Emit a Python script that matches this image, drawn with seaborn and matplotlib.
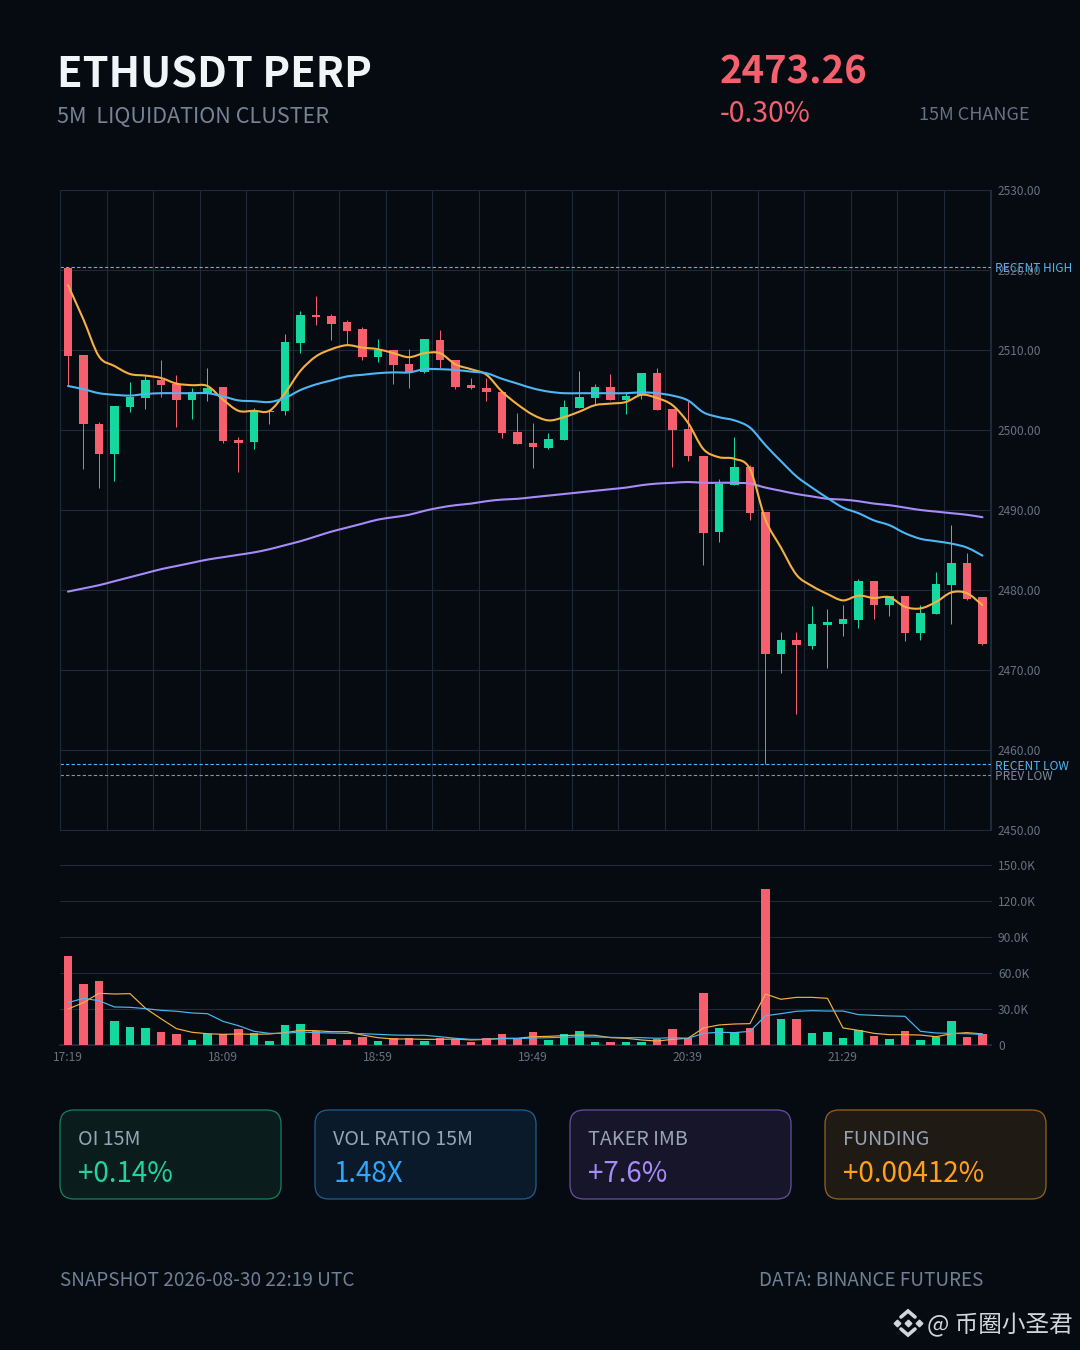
import numpy as np
import pandas as pd
import seaborn as sns
import matplotlib
matplotlib.use("Agg")
import matplotlib.pyplot as plt
from matplotlib.patches import FancyBboxPatch, PathPatch
from matplotlib.path import Path

# --- data ---
OPEN = [2520.2, 2509.4, 2500.8, 2497.0, 2502.9, 2504.0, 2506.3, 2505.7, 2503.8, 2504.6,
        2505.4, 2498.7, 2498.5, 2502.2, 2502.4, 2510.9, 2514.4, 2514.2, 2513.5, 2512.6,
        2509.1, 2510.0, 2508.2, 2507.3, 2511.3, 2508.8, 2505.6, 2505.3, 2504.8, 2499.8,
        2498.4, 2497.8, 2498.8, 2502.7, 2504.0, 2505.4, 2503.8, 2504.4, 2507.1, 2502.6,
        2500.1, 2496.8, 2487.2, 2493.1, 2495.4, 2489.7, 2472.0, 2473.8, 2473.0, 2475.6,
        2475.8, 2476.3, 2481.1, 2478.1, 2479.3, 2474.6, 2477.0, 2480.6, 2483.4, 2479.1]
CLOSE = [2509.2, 2500.7, 2497.0, 2503.0, 2504.1, 2506.3, 2505.6, 2503.8, 2504.8, 2505.3,
         2498.6, 2498.4, 2502.4, 2502.4, 2511.0, 2514.4, 2514.1, 2513.3, 2512.4, 2509.1,
         2510.0, 2508.1, 2507.3, 2511.4, 2508.7, 2505.4, 2505.2, 2504.7, 2499.6, 2498.3,
         2497.9, 2498.9, 2502.9, 2504.1, 2505.4, 2503.8, 2504.3, 2507.1, 2502.5, 2500.0,
         2496.7, 2487.1, 2493.2, 2495.4, 2489.6, 2472.0, 2473.8, 2473.1, 2475.7, 2476.0,
         2476.4, 2481.1, 2478.1, 2479.3, 2474.6, 2477.1, 2480.8, 2483.4, 2478.9, 2473.3]
HIGH = [2520.4, 2509.4, 2501.0, 2503.0, 2506.0, 2506.7, 2508.8, 2506.9, 2505.2, 2507.7,
        2505.4, 2499.1, 2502.8, 2502.4, 2512.0, 2514.9, 2516.8, 2514.5, 2513.7, 2512.9,
        2511.4, 2510.0, 2510.1, 2511.4, 2512.5, 2508.8, 2506.5, 2506.5, 2504.8, 2502.1,
        2500.9, 2499.6, 2503.7, 2507.4, 2505.7, 2507.0, 2504.8, 2507.1, 2507.8, 2502.6,
        2503.6, 2496.8, 2493.9, 2499.1, 2495.6, 2489.7, 2474.8, 2474.8, 2478.0, 2477.6,
        2478.1, 2481.4, 2481.1, 2479.3, 2479.3, 2478.1, 2482.2, 2488.1, 2484.6, 2479.1]
LOW = [2505.5, 2495.1, 2492.7, 2493.6, 2502.2, 2502.6, 2504.1, 2500.4, 2501.4, 2503.6,
       2498.4, 2494.7, 2497.6, 2500.8, 2501.9, 2509.6, 2513.1, 2511.3, 2510.6, 2508.7,
       2508.5, 2505.7, 2505.2, 2507.1, 2507.8, 2505.1, 2505.1, 2503.6, 2499.0, 2498.2,
       2495.3, 2497.6, 2498.8, 2502.7, 2503.3, 2503.8, 2502.0, 2503.9, 2502.5, 2495.4,
       2496.1, 2483.1, 2486.0, 2493.1, 2488.7, 2458.3, 2469.6, 2464.5, 2472.6, 2470.2,
       2474.2, 2475.3, 2476.4, 2476.7, 2473.6, 2473.7, 2477.0, 2475.8, 2478.7, 2473.1]

MA_FAST = [2518.1, 2513.8, 2509.2, 2508.0, 2507.0, 2506.8, 2506.5, 2505.8, 2505.6, 2505.5,
           2503.8, 2502.4, 2502.4, 2502.4, 2504.6, 2507.4, 2509.2, 2510.1, 2510.6, 2510.3,
           2510.1, 2509.6, 2509.1, 2509.6, 2509.6, 2508.2, 2507.6, 2506.9, 2504.8, 2503.2,
           2501.9, 2501.2, 2501.6, 2502.3, 2503.1, 2503.3, 2503.5, 2504.4, 2504.0, 2503.1,
           2500.9, 2497.6, 2496.6, 2496.4, 2495.1, 2488.8, 2485.3, 2481.9, 2480.5, 2479.5,
           2478.7, 2479.3, 2479.0, 2479.1, 2477.9, 2477.7, 2478.5, 2479.7, 2479.6, 2478.1]
MA_MID = [2505.5, 2505.1, 2504.6, 2504.4, 2504.3, 2504.5, 2504.6, 2504.6, 2504.6, 2504.6,
          2504.2, 2503.7, 2503.6, 2503.5, 2504.0, 2505.0, 2505.7, 2506.2, 2506.7, 2506.9,
          2507.1, 2507.2, 2507.2, 2507.6, 2507.6, 2507.5, 2507.3, 2507.1, 2506.4, 2505.8,
          2505.2, 2504.8, 2504.6, 2504.6, 2504.6, 2504.6, 2504.6, 2504.7, 2504.6, 2504.3,
          2503.7, 2502.2, 2501.6, 2501.2, 2500.3, 2498.1, 2496.1, 2494.2, 2492.8, 2491.5,
          2490.3, 2489.6, 2488.7, 2488.1, 2487.1, 2486.4, 2486.1, 2485.8, 2485.3, 2484.3]
MA_SLOW = [2479.8, 2480.2, 2480.6, 2481.1, 2481.6, 2482.1, 2482.6, 2483.0, 2483.4, 2483.8,
           2484.1, 2484.4, 2484.7, 2485.1, 2485.6, 2486.1, 2486.7, 2487.3, 2487.8, 2488.3,
           2488.8, 2489.1, 2489.4, 2489.9, 2490.3, 2490.6, 2490.8, 2491.1, 2491.3, 2491.4,
           2491.6, 2491.8, 2492.0, 2492.2, 2492.4, 2492.6, 2492.8, 2493.1, 2493.3, 2493.4,
           2493.5, 2493.4, 2493.4, 2493.4, 2493.3, 2492.8, 2492.4, 2492.0, 2491.7, 2491.4,
           2491.3, 2491.1, 2490.8, 2490.6, 2490.3, 2490.0, 2489.8, 2489.6, 2489.4, 2489.1]

# volume in thousands
VOLUME = [74.2, 51.1, 53.1, 20.3, 14.7, 13.9, 10.6, 8.9, 4.2, 9.2,
          9.2, 13.1, 9.7, 3.3, 16.4, 17.5, 11.9, 4.7, 3.9, 6.4,
          3.3, 5.6, 5.6, 3.1, 5.6, 5.3, 2.5, 5.6, 8.9, 5.0,
          10.8, 3.9, 9.2, 11.4, 2.8, 2.2, 2.5, 2.2, 5.3, 13.1,
          5.6, 43.6, 14.4, 10.6, 14.4, 129.7, 21.7, 21.4, 10.3, 10.8,
          5.8, 12.2, 7.8, 5.0, 11.4, 4.4, 6.9, 20.0, 6.9, 9.4]
VOL_FAST = [30.0, 35.3, 43.1, 42.5, 42.8, 30.6, 21.9, 13.6, 10.6, 9.4,
            8.9, 9.2, 8.9, 9.2, 10.3, 12.2, 11.9, 11.1, 11.1, 8.3,
            6.1, 5.0, 5.0, 4.7, 4.7, 5.0, 4.2, 4.7, 5.6, 5.6,
            6.9, 7.2, 7.8, 8.3, 8.1, 6.1, 5.6, 4.2, 3.3, 4.7,
            5.6, 14.2, 16.7, 17.5, 17.8, 42.5, 38.1, 39.7, 39.7, 38.9,
            14.2, 12.2, 9.7, 8.6, 8.6, 8.3, 6.9, 9.4, 10.3, 9.2]
VOL_SLOW = [35.3, 38.9, 36.9, 31.7, 31.4, 30.3, 28.9, 28.1, 26.7, 26.1,
            19.7, 16.1, 11.4, 9.7, 9.7, 10.8, 10.3, 10.0, 9.7, 9.4,
            8.9, 8.3, 8.1, 8.1, 6.9, 5.6, 4.7, 4.7, 5.3, 5.3,
            5.8, 6.1, 6.4, 6.9, 6.7, 6.4, 6.1, 6.1, 5.6, 6.1,
            5.6, 9.7, 10.6, 10.3, 11.4, 24.4, 26.1, 28.1, 28.6, 28.3,
            28.3, 25.3, 24.7, 24.2, 23.9, 11.4, 10.0, 9.7, 9.4, 8.9]

TIME_LABELS = ["17:19", "18:09", "18:59", "19:49", "20:39", "21:29"]
PRICE_TICKS = [2450, 2460, 2470, 2480, 2490, 2500, 2510, 2520, 2530]
VOL_TICKS = [0, 30, 60, 90, 120, 150]
RECENT_HIGH = 2520.4
RECENT_LOW = 2458.25
PREV_LOW = 2456.9

CARD_LABELS = ["OI 15M", "VOL RATIO 15M", "TAKER IMB", "FUNDING"]
CARD_VALUES = ["+0.14%", "1.48X", "+7.6%", "+0.00412%"]

# --- colours ---
BG = "#060b12"
GRID = "#1e2a38"
RED = "#f65f6e"
GREEN = "#14d8a0"
ORANGE = "#f5b041"
BLUE = "#4db6f5"
PURPLE = "#a78bfa"
TICK = "#667282"
CARD_TEXT = ["#22d39a", "#2ea8ff", "#a78bfa", "#ff9f1c"]
CARD_FILL = ["#0b1c1c", "#0a1a2a", "#17152a", "#1f1a14"]
CARD_EDGE = ["#17805e", "#1f5f8f", "#67509f", "#94631d"]

sns.set_theme(style="dark", rc={"figure.facecolor": BG, "axes.facecolor": BG, "savefig.facecolor": BG})
plt.rcParams["font.family"] = ["Noto Sans CJK SC", "DejaVu Sans"]

W, H = 1080, 1350
PX = 72 / 100  # points per pixel at dpi 100


def place(left, top, right, bottom):
    return [left / W, 1 - bottom / H, (right - left) / W, (bottom - top) / H]


def smooth_line(ax, xs, ys, color, lw, zorder):
    # catmull-rom through the values, the reference draws spline lines
    pts = np.column_stack([xs, ys])
    verts = [pts[0]]
    codes = [Path.MOVETO]
    for i in range(len(pts) - 1):
        before = pts[max(i - 1, 0)]
        after = pts[min(i + 2, len(pts) - 1)]
        verts += [pts[i] + (pts[i + 1] - before) / 6, pts[i + 1] - (after - pts[i]) / 6, pts[i + 1]]
        codes += [Path.CURVE4] * 3
    ax.add_patch(PathPatch(Path(verts, codes), fc="none", ec=color, lw=lw, zorder=zorder, capstyle="round"))


fig = plt.figure(figsize=(W / 100, H / 100), dpi=100)
fig.patch.set_facecolor(BG)

# pixel canvas for cards and headings
canvas = fig.add_axes([0, 0, 1, 1])
canvas.set_xlim(0, W)
canvas.set_ylim(H, 0)
canvas.axis("off")

# --- price panel ---
idx = np.arange(len(OPEN))
opens, closes = np.array(OPEN), np.array(CLOSE)
is_up = closes >= opens
colors = [GREEN if u else RED for u in is_up]
xlim = (-0.516, 59.55)

ax = fig.add_axes(place(60, 190, 991, 830))
ax.set_facecolor("none")
ax.vlines(idx, LOW, HIGH, colors=colors, lw=1 * PX, zorder=3)
ax.bar(idx, np.abs(closes - opens), bottom=np.minimum(opens, closes), width=0.52, color=colors, lw=0, zorder=4)
smooth_line(ax, idx, MA_SLOW, PURPLE, 1.5, 5)
smooth_line(ax, idx, MA_FAST, ORANGE, 1.5, 6)
smooth_line(ax, idx, MA_MID, BLUE, 1.5, 7)

ax.axhline(RECENT_HIGH, color=BLUE, lw=0.8, ls=(0, (3, 2)), zorder=2)
ax.axhline(RECENT_LOW, color=BLUE, lw=0.8, ls=(0, (3, 2)), zorder=2)
ax.axhline(PREV_LOW, color="#8793a3", lw=0.8, ls=(0, (3, 2)), zorder=2)

ax.set_xlim(*xlim)
ax.set_ylim(2450, 2530)
ax.set_xticks(np.arange(-0.5, 60, 3))
ax.set_yticks(PRICE_TICKS)
ax.set_yticklabels([f"{p:.2f}" for p in PRICE_TICKS])
ax.yaxis.tick_right()
ax.tick_params(axis="y", length=0, pad=5, labelsize=8.6, labelcolor=TICK)
ax.tick_params(axis="x", length=0, labelbottom=False)
ax.grid(True, color=GRID, lw=0.8)
ax.set_axisbelow(True)
for side in ax.spines.values():
    side.set_color(GRID)
    side.set_linewidth(0.8)

canvas.text(995, 272, "RECENT HIGH", color="#4db6f5", fontsize=8.6)
canvas.text(995, 770, "RECENT LOW", color="#4db6f5", fontsize=8.6)
canvas.text(995, 780.5, "PREV LOW", color="#7d8998", fontsize=8.6)

# --- volume panel ---
vol = fig.add_axes(place(60, 865, 991, 1045))
vol.set_facecolor("none")
vol_df = pd.DataFrame({"i": idx, "v": VOLUME, "side": ["up" if u else "down" for u in is_up]})
sns.barplot(data=vol_df, x="i", y="v", hue="side", palette={"up": GREEN, "down": RED}, dodge=False,
            native_scale=True, width=0.56, errorbar=None, legend=False, ax=vol, zorder=3, linewidth=0,
            saturation=1)
sns.lineplot(x=idx, y=VOL_FAST, color=ORANGE, lw=0.85, ax=vol, zorder=4, errorbar=None)
sns.lineplot(x=idx, y=VOL_SLOW, color=BLUE, lw=0.85, ax=vol, zorder=5, errorbar=None)
vol.set_xlim(*xlim)
vol.set_ylim(0, 150)
vol.set_xlabel("")
vol.set_ylabel("")
vol.set_xticks(idx[::10])
vol.set_xticklabels(TIME_LABELS)
vol.set_yticks(VOL_TICKS)
vol.set_yticklabels(["0" if v == 0 else f"{v:.1f}K" for v in VOL_TICKS])
vol.yaxis.tick_right()
vol.tick_params(axis="y", length=0, pad=5, labelsize=8.6, labelcolor=TICK)
vol.tick_params(axis="x", length=0, pad=4, labelsize=8.6, labelcolor=TICK)
vol.grid(True, axis="y", color=GRID, lw=0.8, clip_on=False)
vol.grid(False, axis="x")
vol.set_axisbelow(True)
for name, side in vol.spines.items():
    side.set_visible(name == "bottom")
    side.set_color(GRID)

# --- headings ---
canvas.text(57, 88, "ETHUSDT PERP", color="#f2f5f8", fontsize=30, fontweight="bold")
canvas.text(57, 123, "5M  LIQUIDATION CLUSTER", color="#768395", fontsize=15.6)
canvas.text(720, 83.5, "2473.26", color=RED, fontsize=27.5, fontweight="bold")
canvas.text(720, 122, "-0.30%", color=RED, fontsize=20.4)
canvas.text(1030, 120, "15M CHANGE", color=TICK, fontsize=13, ha="right")

# --- cards ---
for k, left in enumerate([60, 315, 570, 825]):
    canvas.add_patch(FancyBboxPatch((left + 14, 1124), 221 - 28, 89 - 28, boxstyle="round,pad=14,rounding_size=14",
                                    fc=CARD_FILL[k], ec=CARD_EDGE[k], lw=0.9))
    canvas.text(left + 18, 1145, CARD_LABELS[k], color="#98a3b3", fontsize=14.2)
    canvas.text(left + 18, 1182, CARD_VALUES[k], color=CARD_TEXT[k], fontsize=20)

# --- footer ---
canvas.text(60, 1286, "SNAPSHOT 2026-08-30 22:19 UTC", color="#708095", fontsize=13.7)
canvas.text(983, 1286, "DATA: BINANCE FUTURES", color="#708095", fontsize=13.6, ha="right")

# --- watermark ---
mark = "#d2d5d9"
cx, cy = 908, 1323
canvas.plot([cx - 7, cx, cx + 7], [cy - 6, cy - 12, cy - 6], color=mark, lw=2.6, solid_joinstyle="miter")
canvas.plot([cx - 7, cx, cx + 7], [cy + 6, cy + 12, cy + 6], color=mark, lw=2.6, solid_joinstyle="miter")
canvas.plot([cx - 11, cx, cx + 11], [cy, cy, cy], ls="none", marker="D", ms=3.4, mfc=mark, mec=mark)
canvas.text(927, 1332, "@ 币圈小圣君", color=mark, fontsize=17)

fig.savefig("out.png", dpi=100)
